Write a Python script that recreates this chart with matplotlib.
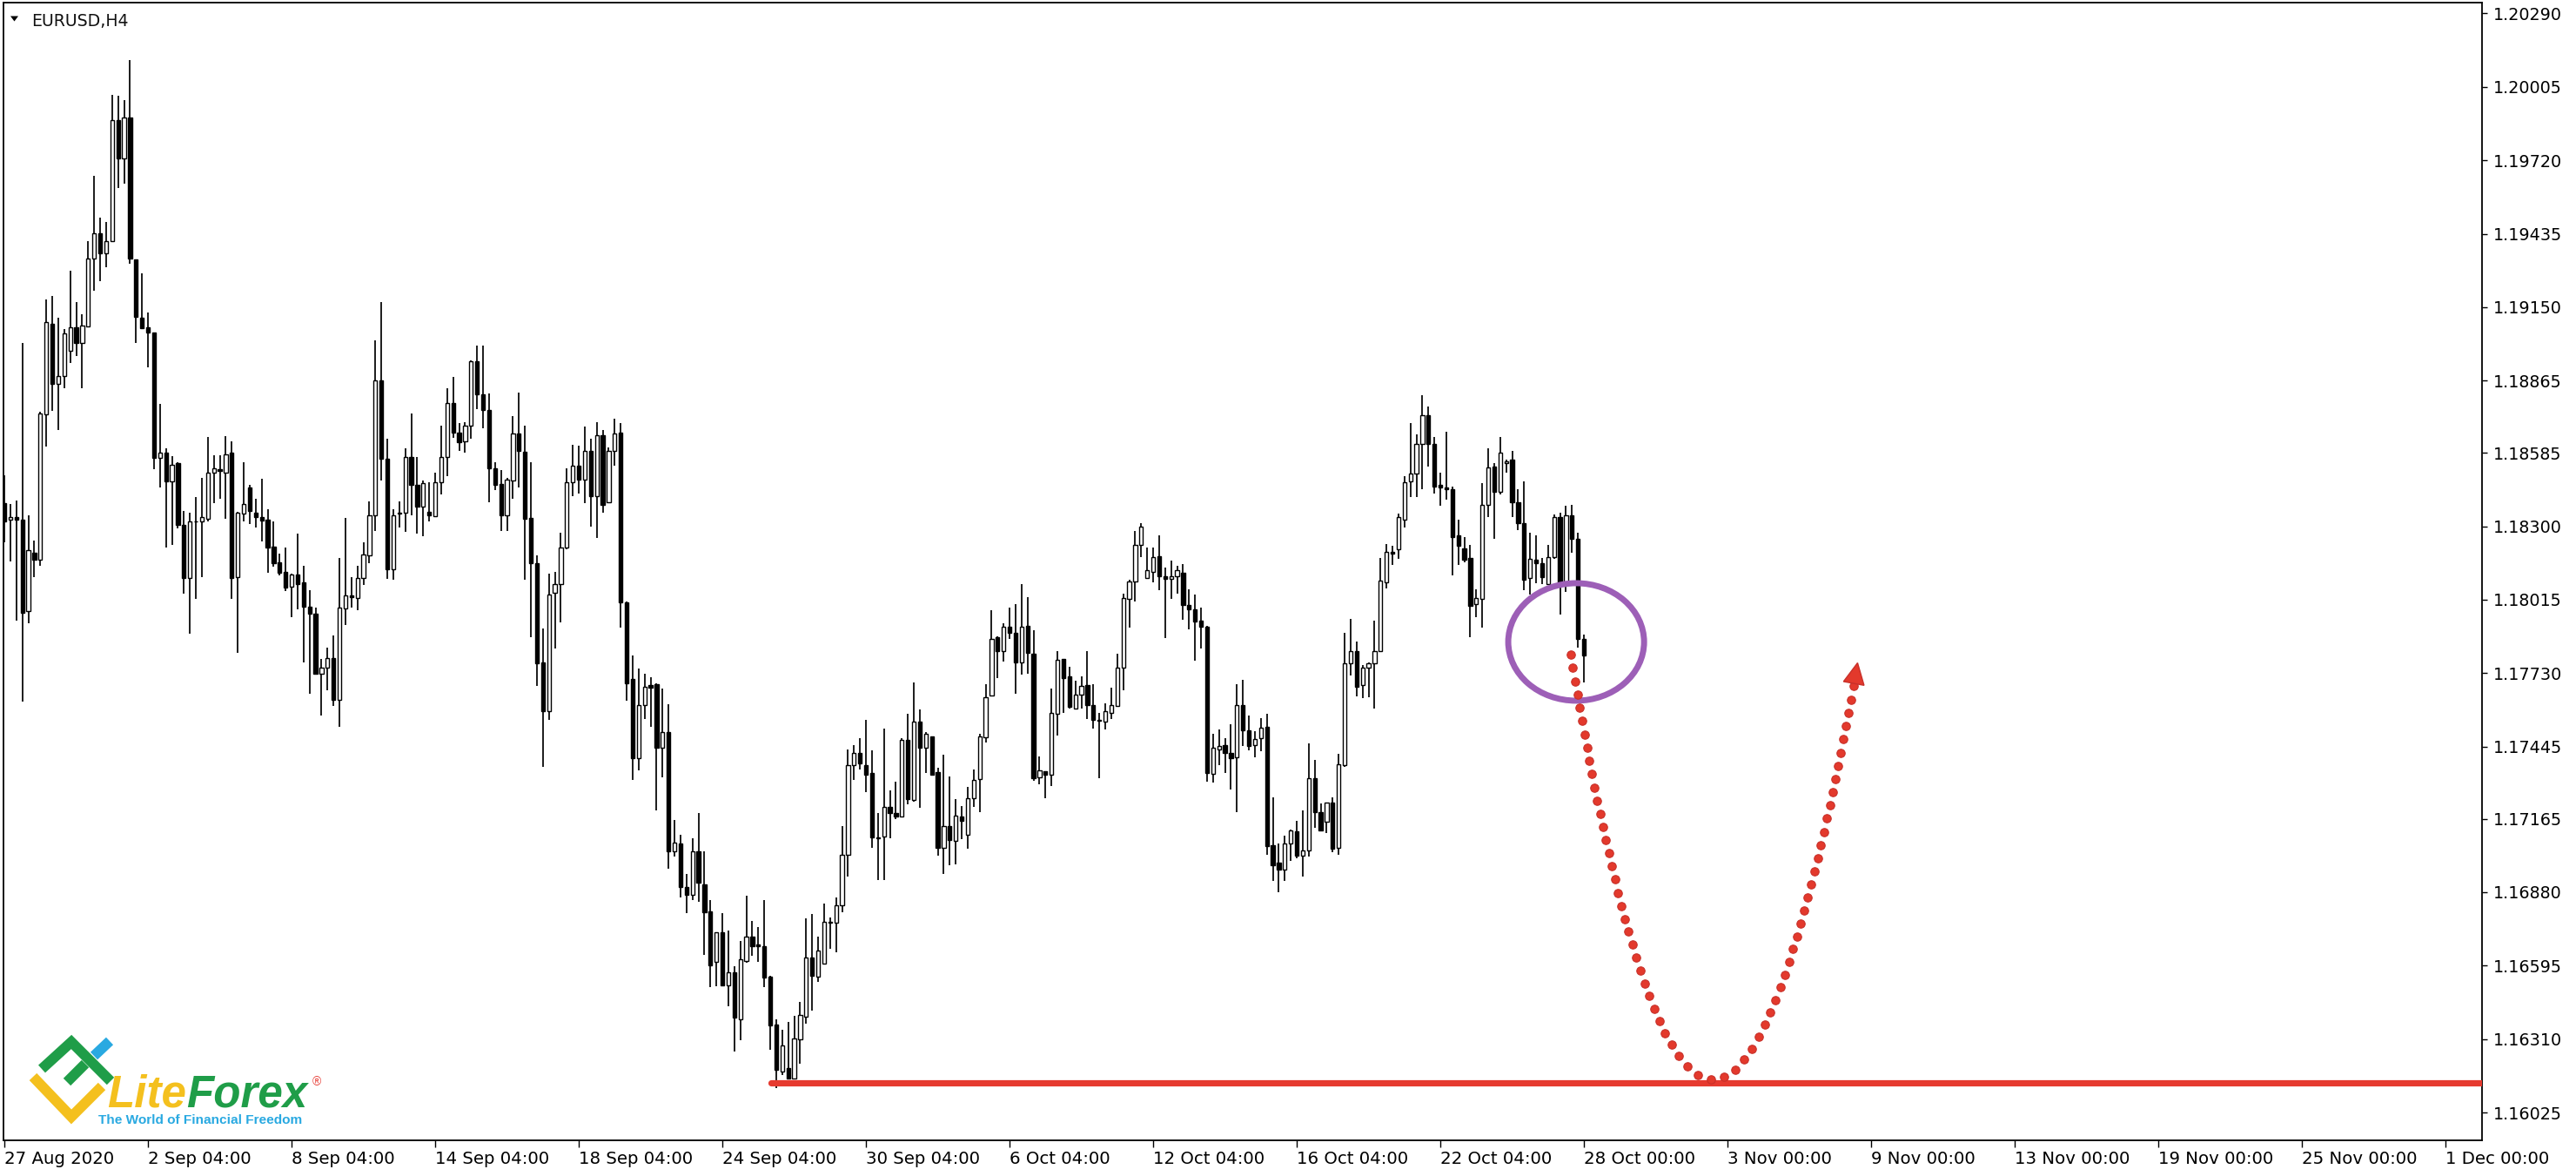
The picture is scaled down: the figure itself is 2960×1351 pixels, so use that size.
"""
EURUSD H4 candlestick chart with support level, highlight circle and
projected move (MT4-style screenshot recreation).
"""
import numpy as np
import matplotlib
matplotlib.use("Agg")
import matplotlib.pyplot as plt
from matplotlib.patches import Ellipse, Polygon

# ---- price data (H4 bars, 27 Aug 2020 04:00 .. 28 Oct 2020 00:00) ----
OPEN = [
    1.18391, 1.18324, 1.18334, 1.18326, 1.17970, 1.18198, 1.18170, 1.18733, 1.19085, 1.18854,
    1.18882, 1.18980, 1.19072, 1.19010, 1.19075, 1.19339, 1.19438, 1.19359, 1.19408, 1.19876,
    1.19728, 1.19887, 1.19334, 1.19108, 1.19072, 1.19052, 1.18567, 1.18587, 1.18473, 1.18544,
    1.18306, 1.18098, 1.18320, 1.18318, 1.18329, 1.18509, 1.18521, 1.18509, 1.18586, 1.18104,
    1.18348, 1.18450, 1.18354, 1.18335, 1.18327, 1.18222, 1.18159, 1.18123, 1.18064, 1.18112,
    1.18081, 1.17988, 1.17960, 1.17726, 1.17751, 1.17788, 1.17627, 1.17980, 1.18030, 1.18022,
    1.18099, 1.18187, 1.18344, 1.18865, 1.18563, 1.18133, 1.18349, 1.18353, 1.18569, 1.18460,
    1.18377, 1.18356, 1.18338, 1.18471, 1.18569, 1.18779, 1.18663, 1.18629, 1.18689, 1.18939,
    1.18812, 1.18751, 1.18524, 1.18465, 1.18341, 1.18477, 1.18659, 1.18589, 1.18332, 1.18157,
    1.17770, 1.17581, 1.18041, 1.18076, 1.18216, 1.18472, 1.18536, 1.18481, 1.18594, 1.18416,
    1.18652, 1.18394, 1.18594, 1.18664, 1.18004, 1.17707, 1.17401, 1.17605, 1.17683, 1.17686,
    1.17442, 1.17502, 1.17040, 1.17069, 1.16900, 1.16870, 1.17040, 1.16910, 1.16805, 1.16609,
    1.16724, 1.16519, 1.16569, 1.16388, 1.16614, 1.16706, 1.16677, 1.16671, 1.16553, 1.16366,
    1.16183, 1.16197, 1.16158, 1.16309, 1.16397, 1.16626, 1.16553, 1.16604, 1.16766, 1.16760,
    1.16829, 1.17025, 1.17374, 1.17420, 1.17374, 1.17341, 1.17093, 1.17096, 1.17211, 1.17188,
    1.17175, 1.17470, 1.17237, 1.17541, 1.17442, 1.17485, 1.17346, 1.17053, 1.17138, 1.17079,
    1.17173, 1.17102, 1.17246, 1.17319, 1.17482, 1.17642, 1.17870, 1.17815, 1.17910, 1.17885,
    1.17770, 1.17913, 1.17806, 1.17327, 1.17349, 1.17335, 1.17572, 1.17784, 1.17718, 1.17594,
    1.17648, 1.17682, 1.17607, 1.17549, 1.17541, 1.17575, 1.17603, 1.17752, 1.18018, 1.18086,
    1.18229, 1.18099, 1.18124, 1.18184, 1.18107, 1.18097, 1.18107, 1.18118, 1.17994, 1.17978,
    1.17932, 1.17910, 1.17338, 1.17434, 1.17449, 1.17420, 1.17403, 1.17607, 1.17508, 1.17451,
    1.17477, 1.17521, 1.17062, 1.16993, 1.16967, 1.17068, 1.17116, 1.17020, 1.17043, 1.17322,
    1.17189, 1.17153, 1.17229, 1.17051, 1.17372, 1.17769, 1.17815, 1.17682, 1.17752, 1.17769,
    1.17815, 1.18082, 1.18200, 1.18212, 1.18325, 1.18473, 1.18505, 1.18621, 1.18732, 1.18618,
    1.18460, 1.18449, 1.18445, 1.18263, 1.18215, 1.18176, 1.17998, 1.18018, 1.18384, 1.18530,
    1.18432, 1.18544, 1.18559, 1.18394, 1.18313, 1.18099, 1.18170, 1.18158, 1.18077, 1.18181,
    1.18336, 1.18077, 1.18344, 1.18251, 1.17862,
]
HIGH = [
    1.18498, 1.18387, 1.18400, 1.19010, 1.18342, 1.18244, 1.18744, 1.19179, 1.19195, 1.19108,
    1.19064, 1.19293, 1.19170, 1.19121, 1.19405, 1.19659, 1.19498, 1.19482, 1.19974, 1.19969,
    1.19953, 1.20110, 1.19334, 1.19282, 1.19129, 1.19052, 1.18774, 1.18603, 1.18572, 1.18547,
    1.18360, 1.18354, 1.18414, 1.18487, 1.18645, 1.18575, 1.18575, 1.18650, 1.18628, 1.18357,
    1.18547, 1.18459, 1.18408, 1.18483, 1.18366, 1.18320, 1.18194, 1.18216, 1.18115, 1.18273,
    1.18145, 1.18053, 1.17983, 1.17785, 1.17828, 1.17875, 1.18177, 1.18331, 1.18104, 1.18146,
    1.18238, 1.18398, 1.19023, 1.19170, 1.18640, 1.18367, 1.18395, 1.18601, 1.18738, 1.18570,
    1.18477, 1.18471, 1.18507, 1.18689, 1.18837, 1.18879, 1.18699, 1.18704, 1.18944, 1.19001,
    1.19001, 1.18815, 1.18548, 1.18518, 1.18488, 1.18728, 1.18820, 1.18689, 1.18547, 1.18187,
    1.17904, 1.18117, 1.18123, 1.18276, 1.18524, 1.18617, 1.18611, 1.18687, 1.18641, 1.18705,
    1.18675, 1.18606, 1.18716, 1.18699, 1.18008, 1.17799, 1.17747, 1.17729, 1.17713, 1.17692,
    1.17671, 1.17608, 1.17160, 1.17104, 1.16950, 1.17090, 1.17186, 1.17040, 1.16848, 1.16724,
    1.16797, 1.16732, 1.16591, 1.16690, 1.16865, 1.16767, 1.16743, 1.16848, 1.16557, 1.16388,
    1.16347, 1.16377, 1.16400, 1.16454, 1.16778, 1.16795, 1.16707, 1.16835, 1.16783, 1.16859,
    1.17138, 1.17434, 1.17451, 1.17479, 1.17550, 1.17429, 1.17186, 1.17515, 1.17276, 1.17310,
    1.17479, 1.17571, 1.17695, 1.17590, 1.17502, 1.17485, 1.17364, 1.17414, 1.17330, 1.17242,
    1.17214, 1.17288, 1.17357, 1.17496, 1.17688, 1.17973, 1.17874, 1.17924, 1.17984, 1.17997,
    1.18076, 1.18026, 1.17898, 1.17406, 1.17349, 1.17671, 1.17817, 1.17784, 1.17753, 1.17701,
    1.17718, 1.17817, 1.17688, 1.17577, 1.17614, 1.17673, 1.17806, 1.18037, 1.18093, 1.18282,
    1.18311, 1.18217, 1.18217, 1.18265, 1.18139, 1.18167, 1.18148, 1.18153, 1.18056, 1.18034,
    1.17986, 1.17913, 1.17493, 1.17510, 1.17476, 1.17532, 1.17688, 1.17705, 1.17567, 1.17504,
    1.17556, 1.17573, 1.17248, 1.17068, 1.17099, 1.17124, 1.17156, 1.17196, 1.17457, 1.17393,
    1.17224, 1.17228, 1.17248, 1.17416, 1.17885, 1.17939, 1.17851, 1.17761, 1.17773, 1.17933,
    1.18178, 1.18230, 1.18225, 1.18350, 1.18494, 1.18699, 1.18657, 1.18809, 1.18766, 1.18646,
    1.18507, 1.18668, 1.18454, 1.18325, 1.18257, 1.18229, 1.18054, 1.18468, 1.18601, 1.18544,
    1.18648, 1.18558, 1.18593, 1.18443, 1.18473, 1.18276, 1.18265, 1.18178, 1.18229, 1.18347,
    1.18353, 1.18379, 1.18384, 1.18274, 1.17879,
]
LOW = [
    1.18236, 1.18162, 1.17932, 1.17620, 1.17924, 1.18104, 1.18145, 1.18610, 1.18747, 1.18674,
    1.18834, 1.18933, 1.18960, 1.18834, 1.19075, 1.19215, 1.19252, 1.19305, 1.19408, 1.19613,
    1.19630, 1.19318, 1.19010, 1.19064, 1.18916, 1.18523, 1.18452, 1.18219, 1.18227, 1.18293,
    1.18039, 1.17884, 1.18017, 1.18104, 1.18318, 1.18389, 1.18405, 1.18329, 1.18017, 1.17807,
    1.18318, 1.18307, 1.18295, 1.18242, 1.18121, 1.18143, 1.18109, 1.18047, 1.17946, 1.17976,
    1.17771, 1.17649, 1.17726, 1.17565, 1.17664, 1.17602, 1.17523, 1.17918, 1.17985, 1.17973,
    1.18071, 1.18155, 1.18282, 1.18477, 1.18097, 1.18093, 1.18295, 1.18279, 1.18341, 1.18272,
    1.18261, 1.18319, 1.18336, 1.18424, 1.18494, 1.18642, 1.18593, 1.18586, 1.18638, 1.18755,
    1.18679, 1.18392, 1.18441, 1.18283, 1.18283, 1.18406, 1.18451, 1.18093, 1.17870, 1.17680,
    1.17366, 1.17550, 1.17826, 1.17928, 1.18210, 1.18416, 1.18427, 1.18390, 1.18299, 1.18254,
    1.18353, 1.18393, 1.18536, 1.17905, 1.17624, 1.17314, 1.17354, 1.17552, 1.17523, 1.17197,
    1.17325, 1.16970, 1.17017, 1.16860, 1.16800, 1.16850, 1.16842, 1.16636, 1.16510, 1.16516,
    1.16519, 1.16437, 1.16260, 1.16305, 1.16606, 1.16634, 1.16611, 1.16510, 1.16268, 1.16121,
    1.16172, 1.16152, 1.16155, 1.16215, 1.16369, 1.16420, 1.16533, 1.16600, 1.16659, 1.16645,
    1.16803, 1.16942, 1.17314, 1.17355, 1.17267, 1.17051, 1.16927, 1.16927, 1.17090, 1.17164,
    1.17169, 1.17220, 1.17231, 1.17209, 1.17344, 1.17333, 1.17023, 1.16949, 1.16983, 1.16989,
    1.17085, 1.17049, 1.17212, 1.17192, 1.17462, 1.17642, 1.17710, 1.17774, 1.17862, 1.17650,
    1.17725, 1.17727, 1.17312, 1.17297, 1.17246, 1.17291, 1.17488, 1.17575, 1.17594, 1.17592,
    1.17594, 1.17552, 1.17516, 1.17321, 1.17513, 1.17552, 1.17598, 1.17662, 1.17908, 1.18007,
    1.18180, 1.18097, 1.18082, 1.18052, 1.17865, 1.18018, 1.18040, 1.17938, 1.17900, 1.17778,
    1.17826, 1.17310, 1.17305, 1.17372, 1.17344, 1.17279, 1.17192, 1.17448, 1.17431, 1.17403,
    1.17427, 1.17025, 1.16922, 1.16879, 1.16922, 1.17000, 1.17012, 1.16939, 1.17017, 1.17130,
    1.17117, 1.17108, 1.17034, 1.17025, 1.17367, 1.17722, 1.17639, 1.17632, 1.17635, 1.17594,
    1.17814, 1.18060, 1.18150, 1.18172, 1.18296, 1.18415, 1.18412, 1.18443, 1.18533, 1.18426,
    1.18379, 1.18403, 1.18110, 1.18150, 1.18161, 1.17868, 1.17947, 1.17908, 1.18336, 1.18251,
    1.18424, 1.18507, 1.18336, 1.18285, 1.18052, 1.18034, 1.18079, 1.18077, 1.18071, 1.18172,
    1.17958, 1.18045, 1.18198, 1.17829, 1.17693,
]
CLOSE = [
    1.18318, 1.18334, 1.18324, 1.17965, 1.18206, 1.18170, 1.18736, 1.19092, 1.18851, 1.18882,
    1.19047, 1.19072, 1.19010, 1.19079, 1.19339, 1.19438, 1.19359, 1.19408, 1.19876, 1.19728,
    1.19887, 1.19338, 1.19113, 1.19069, 1.19052, 1.18567, 1.18587, 1.18473, 1.18539, 1.18304,
    1.18098, 1.18318, 1.18318, 1.18337, 1.18509, 1.18524, 1.18513, 1.18580, 1.18098, 1.18354,
    1.18385, 1.18360, 1.18337, 1.18323, 1.18219, 1.18157, 1.18121, 1.18062, 1.18112, 1.18075,
    1.17988, 1.17960, 1.17726, 1.17751, 1.17788, 1.17627, 1.17983, 1.18030, 1.18024, 1.18099,
    1.18191, 1.18344, 1.18865, 1.18563, 1.18133, 1.18344, 1.18353, 1.18569, 1.18460, 1.18377,
    1.18469, 1.18344, 1.18471, 1.18569, 1.18779, 1.18663, 1.18625, 1.18689, 1.18939, 1.18812,
    1.18751, 1.18524, 1.18462, 1.18341, 1.18480, 1.18659, 1.18592, 1.18330, 1.18155, 1.17768,
    1.17581, 1.18035, 1.18076, 1.18219, 1.18472, 1.18536, 1.18481, 1.18594, 1.18416, 1.18652,
    1.18382, 1.18594, 1.18660, 1.18004, 1.17692, 1.17401, 1.17607, 1.17678, 1.17674, 1.17442,
    1.17502, 1.17040, 1.17073, 1.16900, 1.16870, 1.17040, 1.16916, 1.16803, 1.16595, 1.16724,
    1.16519, 1.16569, 1.16392, 1.16619, 1.16706, 1.16670, 1.16671, 1.16549, 1.16364, 1.16189,
    1.16285, 1.16158, 1.16313, 1.16403, 1.16626, 1.16555, 1.16653, 1.16766, 1.16760, 1.16829,
    1.17025, 1.17374, 1.17420, 1.17378, 1.17336, 1.17093, 1.17088, 1.17211, 1.17188, 1.17175,
    1.17470, 1.17242, 1.17541, 1.17442, 1.17493, 1.17335, 1.17053, 1.17138, 1.17082, 1.17177,
    1.17158, 1.17246, 1.17316, 1.17485, 1.17635, 1.17862, 1.17815, 1.17910, 1.17885, 1.17772,
    1.17910, 1.17808, 1.17321, 1.17352, 1.17335, 1.17577, 1.17781, 1.17710, 1.17598, 1.17646,
    1.17680, 1.17605, 1.17547, 1.17544, 1.17583, 1.17607, 1.17752, 1.18020, 1.18084, 1.18229,
    1.18300, 1.18129, 1.18180, 1.18105, 1.18096, 1.18107, 1.18129, 1.17994, 1.17977, 1.17930,
    1.17910, 1.17342, 1.17440, 1.17448, 1.17421, 1.17401, 1.17607, 1.17508, 1.17448, 1.17474,
    1.17519, 1.17060, 1.16984, 1.16967, 1.17068, 1.17119, 1.17023, 1.17043, 1.17322, 1.17189,
    1.17119, 1.17228, 1.17049, 1.17375, 1.17769, 1.17815, 1.17677, 1.17752, 1.17769, 1.17815,
    1.18088, 1.18200, 1.18195, 1.18336, 1.18471, 1.18505, 1.18621, 1.18732, 1.18618, 1.18454,
    1.18449, 1.18443, 1.18257, 1.18223, 1.18169, 1.17992, 1.18020, 1.18384, 1.18527, 1.18432,
    1.18586, 1.18553, 1.18394, 1.18313, 1.18093, 1.18172, 1.18158, 1.18101, 1.18181, 1.18336,
    1.18079, 1.18344, 1.18251, 1.17862, 1.17800,
]

X_LABELS = [
    "27 Aug 2020", "2 Sep 04:00", "8 Sep 04:00", "14 Sep 04:00", "18 Sep 04:00",
    "24 Sep 04:00", "30 Sep 04:00", "6 Oct 04:00", "12 Oct 04:00", "16 Oct 04:00",
    "22 Oct 04:00", "28 Oct 00:00", "3 Nov 00:00", "9 Nov 00:00", "13 Nov 00:00",
    "19 Nov 00:00", "25 Nov 00:00", "1 Dec 00:00",
]
BARS_PER_LABEL = 24
PRICE_TICKS = [
    1.20290, 1.20005, 1.19720, 1.19435, 1.19150, 1.18865, 1.18585, 1.18300,
    1.18015, 1.17730, 1.17445, 1.17165, 1.16880, 1.16595, 1.16310, 1.16025,
]
SUPPORT_LEVEL = 1.1614
TITLE = "EURUSD,H4"

W, H = 2960, 1351
plt.rcParams["font.family"] = ["DejaVu Sans"]

fig = plt.figure(figsize=(W / 100, H / 100), dpi=100)
fig.patch.set_facecolor("white")
ax = fig.add_axes([4 / W, 1 - 1310 / H, (2852 - 4) / W, (1310 - 3) / H])

o, hi, lo, c = (np.array(a) for a in (OPEN, HIGH, LOW, CLOSE))
x = np.arange(len(o))
up = c >= o

# candles: wicks, then white (bull) / black (bear) bodies
ax.vlines(x, lo, hi, color="black", lw=1.25, zorder=2)
ax.bar(x[up], (c - o)[up], bottom=o[up], width=0.62, facecolor="white",
       edgecolor="black", linewidth=1.0, zorder=3)
ax.bar(x[~up], (o - c)[~up], bottom=c[~up], width=0.62, facecolor="black",
       edgecolor="black", linewidth=1.0, zorder=3)

XMAX = 414.1
ax.set_xlim(-0.15, XMAX)
ax.set_ylim(1.15917, 1.20332)

for s in ax.spines.values():
    s.set_linewidth(1.3)
    s.set_color("black")

ax.yaxis.tick_right()
ax.set_yticks(PRICE_TICKS)
ax.set_yticklabels([f"{p:.5f}" for p in PRICE_TICKS])
ax.tick_params(axis="y", direction="out", length=4.5, width=1.0, pad=5,
               labelsize=13.8, colors="black")

ax.set_xticks(np.arange(len(X_LABELS)) * BARS_PER_LABEL)
ax.set_xticklabels(X_LABELS, ha="left")
ax.tick_params(axis="x", direction="out", length=5.5, width=1.0, pad=3,
               labelsize=14.2, colors="black")

# support line
low_bar = int(np.argmin(lo))
ax.plot([low_bar - 0.8, XMAX], [SUPPORT_LEVEL, SUPPORT_LEVEL], color="#e63a2f",
        lw=5.2, solid_capstyle="round", zorder=6)

# highlight circle around the last bars
ax.add_patch(Ellipse((262.7, 1.17851), 22.7, 0.00456, fill=False,
                     edgecolor="#9d5fb7", lw=5.0, zorder=5))

# projected path: dotted red curve down to support and back up
p0 = np.array([261.8, 1.17802])
pb = np.array([285.1, 1.16153])
p2 = np.array([309.1, 1.17690])
p1 = 2 * pb - (p0 + p2) / 2
t = np.linspace(0, 1, 800)[:, None]
curve = (1 - t) ** 2 * p0 + 2 * (1 - t) * t * p1 + t ** 2 * p2
disp = ax.transData.transform(curve)
seg = np.hypot(*np.diff(disp, axis=0).T)
arc = np.concatenate([[0], np.cumsum(seg)])
steps = np.arange(0, arc[-1], 15.5)
dots = np.column_stack([np.interp(steps, arc, disp[:, 0]), np.interp(steps, arc, disp[:, 1])])
dots_data = ax.transData.inverted().transform(dots)
ax.plot(dots_data[:, 0], dots_data[:, 1], "o", ms=6.8, color="#e3392c",
        mec="#c8302a", mew=0.8, zorder=7)

# arrow head at the end of the curve
d = disp[-1] - disp[-15]
d = d / np.hypot(*d)
nrm = np.array([-d[1], d[0]])
base = disp[-1]
tri = np.array([base + d * 24, base + nrm * 12, base - nrm * 12])
ax.add_patch(Polygon(ax.transData.inverted().transform(tri), closed=True,
                     facecolor="#e3392c", edgecolor="#c8302a", lw=1, zorder=8))

# ---- overlay in pixel coordinates: title and logo ----
ov = fig.add_axes([0, 0, 1, 1], zorder=10)
ov.set_xlim(0, W)
ov.set_ylim(H, 0)
ov.axis("off")

ov.add_patch(Polygon([(12, 18.5), (21, 18.5), (16.5, 24.5)], closed=True,
                     facecolor="black", edgecolor="none"))
ov.text(36, 24, TITLE, fontsize=13.6, va="center", ha="left", color="#111111")

YELLOW, GREEN, BLUE = "#f4c01e", "#1f9d48", "#29a9e1"
ov.plot([38, 82, 117], [1237, 1283, 1248], color=YELLOW, lw=8.5,
        solid_capstyle="butt", solid_joinstyle="miter")
ov.plot([48, 82, 127], [1228, 1197, 1242], color=GREEN, lw=8.5,
        solid_capstyle="butt", solid_joinstyle="miter")
ov.plot([77, 98], [1243, 1222], color=GREEN, lw=8.5, solid_capstyle="butt")
ov.plot([108, 126], [1213, 1196], color=BLUE, lw=8.5, solid_capstyle="butt")

renderer = fig.canvas.get_renderer()
logo_font = ["Liberation Sans", "DejaVu Sans"]


def text_width(s, size, **kw):
    tmp = ov.text(0, 0, s, fontsize=size, family=logo_font, **kw)
    w = tmp.get_window_extent(renderer).width
    tmp.remove()
    return w


bold_it = dict(fontweight="bold", style="italic")
logo_size = 36 * 230 / text_width("LiteForex", 36, **bold_it)
lite_w = text_width("Lite", logo_size, **bold_it)
ov.text(123, 1272, "Lite", fontsize=logo_size, family=logo_font, color=YELLOW,
        va="baseline", ha="left", **bold_it)
ov.text(123 + lite_w, 1272, "Forex", fontsize=logo_size, family=logo_font,
        color=GREEN, va="baseline", ha="left", **bold_it)
ov.text(364, 1243, "\u00ae", fontsize=10, color="#e8413a", va="center", ha="center",
        family=logo_font)
tag = "The World of Financial Freedom"
tag_size = 10 * 234 / text_width(tag, 10, fontweight="bold")
ov.text(113, 1291, tag, fontsize=tag_size, fontweight="bold", family=logo_font,
        color=BLUE, va="baseline", ha="left")

fig.savefig("out.png", dpi=100, facecolor="white")
